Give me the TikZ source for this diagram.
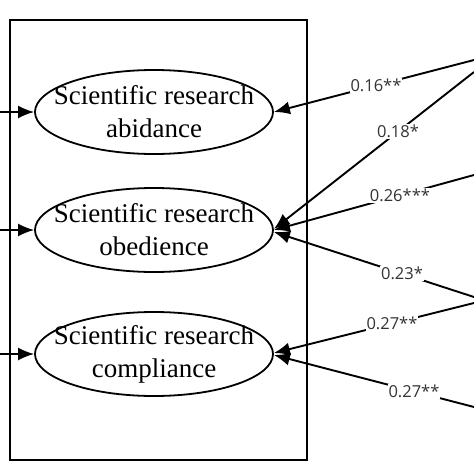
\documentclass[tikz,border=0pt]{standalone}
\usepackage{fontspec}
\setmainfont{Liberation Serif}
\newfontfamily\labfont{Open Sans}
\usetikzlibrary{arrows.meta,shapes.geometric}
\begin{document}
\begin{tikzpicture}[x=1pt,y=-1pt,
  latent/.style={draw, line width=1.8pt, ellipse, minimum width=238pt, minimum height=84pt, inner sep=0pt},
  ltext/.style={align=center, inner sep=0pt, font=\fontsize{27}{33}\selectfont},
  arr/.style={line width=1.9pt, -{Latex[length=16pt,width=13pt]}},
  lab/.style={fill=white, inner sep=1pt, text=black!80, font=\labfont\fontsize{16.5}{18}\selectfont}]
\useasboundingbox (0,0) rectangle (474,474);
\clip (0,0) rectangle (474,474);
\node[draw, line width=2.4pt, minimum width=297pt, minimum height=440pt, inner sep=0pt] (box) at (158.5,240) {};
\node[latent] (e1) at (154,112) {};
\node[latent] (e2) at (154,230) {};
\node[latent] (e3) at (154,354) {};
\node[ltext] (t1) at (e1) {Scientific research\\abidance};
\node[ltext] (t2) at (e2) {Scientific research\\obedience};
\node[ltext] (t3) at (e3) {Scientific research\\compliance};
\coordinate (l1) at (0,112);
\coordinate (l2) at (0,230);
\coordinate (l3) at (0,354);
\draw[arr] (l1) -- (e1.west);
\draw[arr] (l2) -- (e2.west);
\draw[arr] (l3) -- (e3.west);
\coordinate (r1) at (474,60);
\coordinate (r2) at (474,72);
\coordinate (r3) at (474,175);
\coordinate (r4) at (474,297);
\coordinate (r5) at (474,303);
\coordinate (r6) at (474,407);
\draw[arr] (r1) -- node[lab, pos=0.49] {0.16**} (e1.east);
\draw[arr] (r2) -- node[lab, pos=0.38] {0.18*} ([yshift=1pt]e2.east);
\draw[arr] (r3) -- node[lab, pos=0.37] {0.26***} (e2.east);
\draw[arr] (r4) -- node[lab, pos=0.36] {0.23*} ([yshift=-2pt]e2.east);
\draw[arr] (r5) -- node[lab, pos=0.41] {0.27**} ([yshift=1pt]e3.east);
\draw[arr] (r6) -- node[lab, pos=0.30] {0.27**} ([yshift=-1pt]e3.east);
\end{tikzpicture}
\end{document}
